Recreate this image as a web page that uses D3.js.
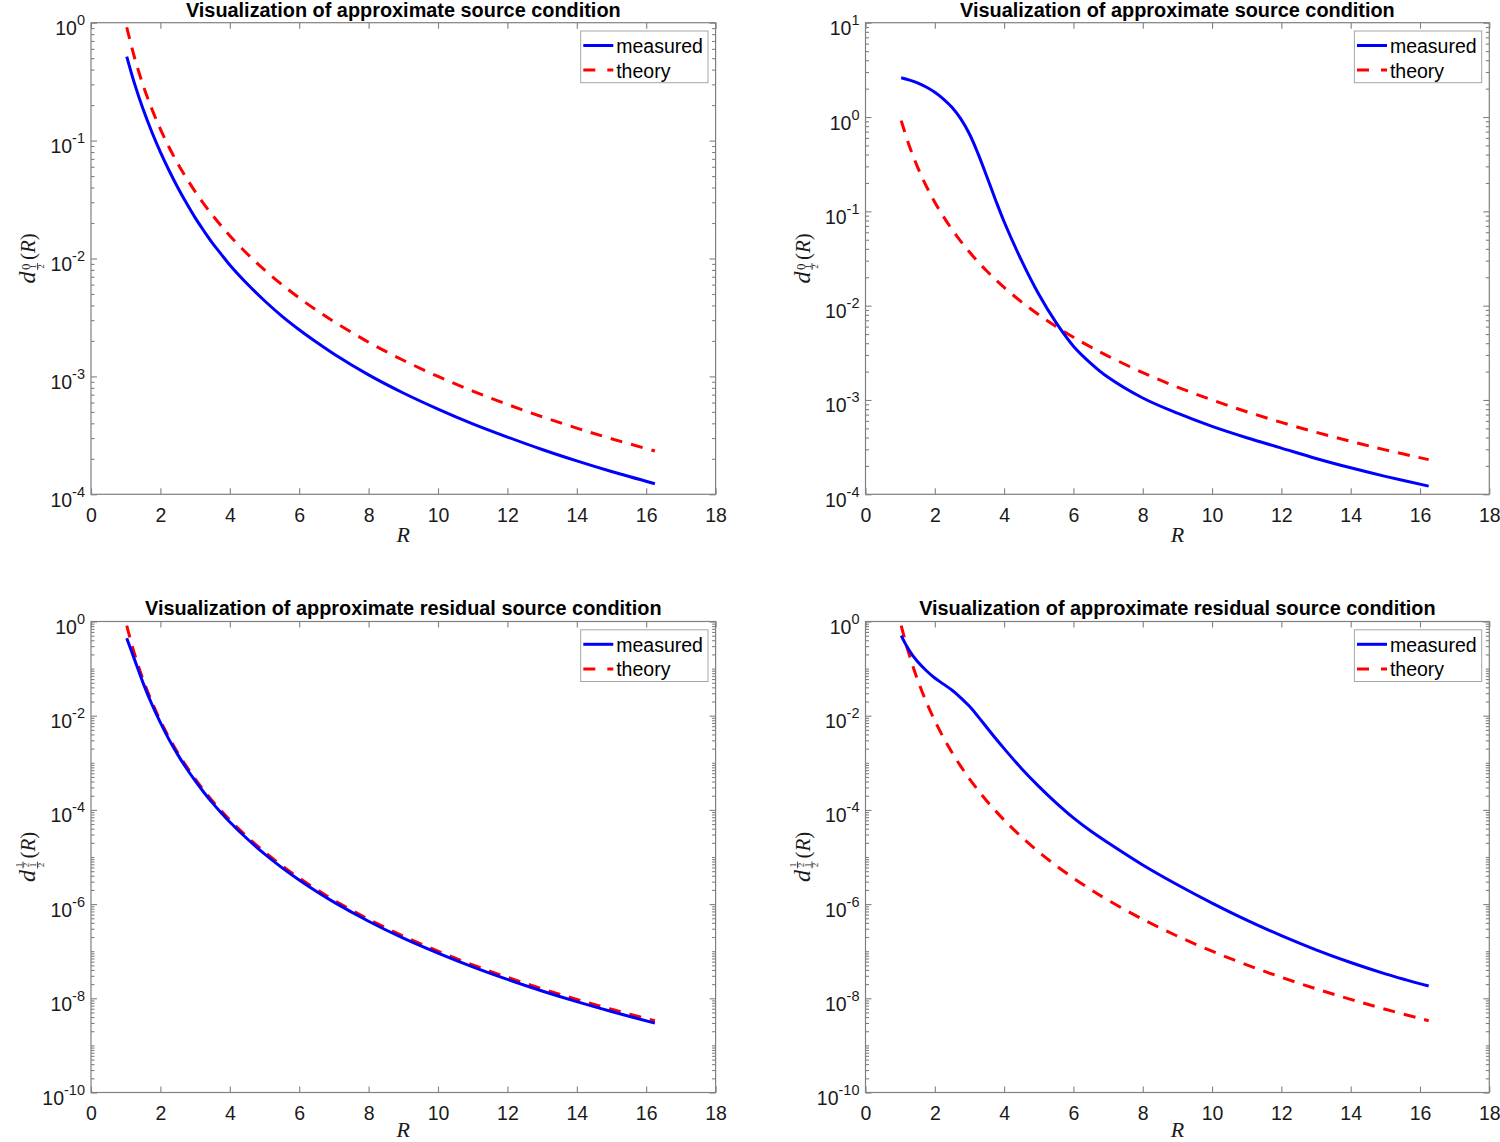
<!DOCTYPE html>
<html><head><meta charset="utf-8">
<script src="https://cdn.jsdelivr.net/npm/d3@7"></script>
<style>body{margin:0;background:#fff}svg{display:block}</style>
</head><body>
<svg id="chart" width="1500" height="1142"></svg>
<script>
// ---------- data ----------
const R = [1.03, 1.25, 1.5, 1.75, 2, 2.25, 2.5, 2.75, 3, 3.25, 3.5, 3.75, 4, 4.5, 5, 5.5, 6, 6.5, 7, 8, 9, 10, 11, 12, 13, 14, 15, 16.25];

const measuredTL = [0.515, 0.307, 0.185, 0.119, 0.080, 0.0558, 0.040, 0.0295, 0.0222, 0.0172, 0.0135, 0.0109, 0.00881, 0.0061, 0.00438, 0.00325, 0.00249, 0.00195, 0.00155, 0.00103, 7.23e-4, 5.28e-4, 3.96e-4, 3.06e-4, 2.40e-4, 1.92e-4, 1.56e-4, 1.23e-4];
const theoryTL = [0.915, 0.512, 0.296, 0.1866, 0.125, 0.0878, 0.064, 0.0481, 0.0370, 0.0291, 0.0233, 0.01896, 0.0156, 0.01097, 0.0080, 0.00601, 0.00463, 0.00364, 0.00292, 0.00195, 0.00137, 0.0010, 7.51e-4, 5.79e-4, 4.55e-4, 3.64e-4, 2.96e-4, 2.33e-4];

const measuredTR = [2.61, 2.48, 2.30, 2.08, 1.83, 1.55, 1.26, 0.955, 0.661, 0.407, 0.234, 0.133, 0.0776, 0.0302, 0.0132, 0.0066, 0.00372, 0.00245, 0.00174, 0.00105, 7.24e-4, 5.25e-4, 3.98e-4, 3.09e-4, 2.40e-4, 1.91e-4, 1.55e-4, 1.22e-4];
const theoryTR = [0.915, 0.512, 0.296, 0.1866, 0.125, 0.0878, 0.064, 0.0481, 0.0370, 0.0291, 0.0233, 0.01896, 0.0156, 0.01097, 0.0080, 0.00601, 0.00463, 0.00364, 0.00292, 0.00195, 0.00137, 0.0010, 7.51e-4, 5.79e-4, 4.55e-4, 3.64e-4, 2.96e-4, 2.33e-4];

const measuredBL = [0.44, 0.159, 0.0498, 0.0177, 0.0071, 0.0031, 0.00149, 7.65e-4, 4.16e-4, 2.37e-4, 1.41e-4, 8.7e-5, 5.55e-5, 2.44e-5, 1.165e-5, 5.95e-6, 3.24e-6, 1.85e-6, 1.1e-6, 4.33e-7, 1.89e-7, 9.1e-8, 4.65e-8, 2.52e-8, 1.43e-8, 8.5e-9, 5.25e-9, 2.97e-9];
const theoryBL = [0.813, 0.21, 0.0585, 0.0199, 0.00781, 0.00342, 0.00164, 8.41e-4, 4.57e-4, 2.61e-4, 1.55e-4, 9.6e-5, 6.1e-5, 2.68e-5, 1.28e-5, 6.57e-6, 3.57e-6, 2.04e-6, 1.21e-6, 4.77e-7, 2.09e-7, 1.0e-7, 5.13e-8, 2.79e-8, 1.59e-8, 9.5e-9, 5.85e-9, 3.34e-9];

const measuredBR = [0.501, 0.251, 0.141, 0.0912, 0.0631, 0.0468, 0.0347, 0.024, 0.0158, 0.00955, 0.00562, 0.00331, 0.0020, 7.6e-4, 3.16e-4, 1.41e-4, 6.76e-5, 3.55e-5, 2.0e-5, 6.76e-6, 2.57e-6, 1.05e-6, 4.57e-7, 2.14e-7, 1.07e-7, 5.75e-8, 3.31e-8, 1.82e-8];
const theoryBR = [0.813, 0.21, 0.0585, 0.0199, 0.00781, 0.00342, 0.00164, 8.41e-4, 4.57e-4, 2.61e-4, 1.55e-4, 9.6e-5, 6.1e-5, 2.68e-5, 1.28e-5, 6.57e-6, 3.57e-6, 2.04e-6, 1.21e-6, 4.77e-7, 2.09e-7, 1.0e-7, 5.13e-8, 2.79e-8, 1.59e-8, 9.5e-9, 5.85e-9, 3.34e-9];

const titles = [
  "Visualization of approximate source condition",
  "Visualization of approximate source condition",
  "Visualization of approximate residual source condition",
  "Visualization of approximate residual source condition"
];
const seriesNames = ["measured", "theory"];
const xTicks = [0, 2, 4, 6, 8, 10, 12, 14, 16, 18];
const yExpTL = [0, -1, -2, -3, -4];
const yExpTR = [1, 0, -1, -2, -3, -4];
const yExpBottom = [0, -2, -4, -6, -8, -10];
const xLabel = "R";

// ---------- layout ----------
const svg = d3.select("#chart");
const sansFont = "'Liberation Sans', Arial, Helvetica, sans-serif";
const serifFont = "'Liberation Serif', 'Times New Roman', serif";
const axisColor = "#808080";
const textColor = "#1a1a1a";

const panels = [
  {x: 91, y: 22.7, w: 624.6, h: 471.6, title: titles[0], m: measuredTL, t: theoryTL, exps: yExpTL, sup: "0", titleW: 435},
  {x: 865.5, y: 22.7, w: 623.8, h: 471.6, title: titles[1], m: measuredTR, t: theoryTR, exps: yExpTR, sup: "0", titleW: 435},
  {x: 91, y: 621.5, w: 624.6, h: 471, title: titles[2], m: measuredBL, t: theoryBL, exps: yExpBottom, sup: "frac", titleW: 517},
  {x: 865.5, y: 621.5, w: 623.8, h: 471, title: titles[3], m: measuredBR, t: theoryBR, exps: yExpBottom, sup: "frac", titleW: 517}
];

function drawPanel(p) {
  const W = p.w;
  const g = svg.append("g").attr("transform", `translate(${p.x},${p.y})`);
  const x = d3.scaleLinear().domain([0, 18]).range([0, W]);
  const yMax = Math.pow(10, d3.max(p.exps)), yMin = Math.pow(10, d3.min(p.exps));
  const y = d3.scaleLog().domain([yMin, yMax]).range([p.h, 0]);

  const majorVals = p.exps.map(e => Math.pow(10, e));
  const minors = [];
  for (let k = d3.min(p.exps); k < d3.max(p.exps); k++) {
    for (let m = 1; m <= 9; m++) {
      if (m === 1 && p.exps.includes(k)) continue;
      minors.push(m * Math.pow(10, k));
    }
  }

  const styleAxis = sel => {
    sel.select(".domain").remove();
    sel.selectAll("line").attr("stroke", axisColor).attr("stroke-width", 1.1);
  };

  g.append("g").attr("transform", `translate(0,${p.h})`)
    .call(d3.axisBottom(x).tickValues(xTicks).tickSizeInner(-6).tickSizeOuter(0).tickPadding(13.5).tickFormat(d3.format("d")))
    .call(styleAxis)
    .call(s => s.selectAll("text").attr("font-family", sansFont).attr("font-size", 19.5).attr("fill", textColor));
  g.append("g")
    .call(d3.axisTop(x).tickValues(xTicks).tickSizeInner(-6).tickSizeOuter(0).tickFormat(""))
    .call(styleAxis);
  g.append("g").call(d3.axisLeft(y).tickValues(majorVals).tickSizeInner(-6).tickSizeOuter(0).tickFormat("")).call(styleAxis);
  g.append("g").call(d3.axisLeft(y).tickValues(minors).tickSizeInner(-3.5).tickSizeOuter(0).tickFormat("")).call(styleAxis);
  g.append("g").attr("transform", `translate(${W},0)`).call(d3.axisRight(y).tickValues(majorVals).tickSizeInner(-6).tickSizeOuter(0).tickFormat("")).call(styleAxis);
  g.append("g").attr("transform", `translate(${W},0)`).call(d3.axisRight(y).tickValues(minors).tickSizeInner(-3.5).tickSizeOuter(0).tickFormat("")).call(styleAxis);

  g.append("rect").attr("x", 0).attr("y", 0).attr("width", W).attr("height", p.h)
    .attr("fill", "none").attr("stroke", axisColor).attr("stroke-width", 1.2);

  p.exps.forEach(e => {
    const ty = y(Math.pow(10, e));
    const t = g.append("text").attr("x", -6).attr("y", ty + 12.5)
      .attr("text-anchor", "end").attr("font-family", sansFont).attr("fill", textColor);
    t.append("tspan").attr("font-size", 19.5).text("10");
    t.append("tspan").attr("font-size", 14.5).attr("dy", -10).text(String(e));
  });

  const line = d3.line().x((d, i) => x(R[i])).y(d => y(d)).curve(d3.curveCatmullRom.alpha(0.5));
  g.append("path").datum(p.t).attr("d", line).attr("fill", "none")
    .attr("stroke", "#ff0000").attr("stroke-width", 3).attr("stroke-dasharray", "12,9");
  g.append("path").datum(p.m).attr("d", line).attr("fill", "none")
    .attr("stroke", "#0000ff").attr("stroke-width", 3);

  const tt = svg.append("text").attr("x", p.x + W / 2).attr("y", p.y - 6.2)
    .attr("text-anchor", "middle").attr("font-family", sansFont).attr("font-weight", "bold")
    .attr("font-size", 18.5).attr("fill", "#000").text(p.title);
  const len = tt.node().getComputedTextLength();
  if (len > 0) tt.attr("font-size", 18.5 * p.titleW / len);

  g.append("text").attr("x", W / 2).attr("y", Math.min(p.h + 48, 1137 - p.y)).attr("text-anchor", "middle")
    .attr("font-family", serifFont).attr("font-style", "italic").attr("font-size", 22)
    .attr("fill", textColor).text(xLabel);

  // y label  d^{sup}_{1/2}(R)
  const yl = g.append("g").attr("transform", `translate(-64,${p.h / 2}) rotate(-90)`)
    .attr("font-family", serifFont).attr("fill", textColor);
  yl.append("text").attr("x", -25).attr("y", 8).attr("font-style", "italic").attr("font-size", 24).text("d");
  const frac = (cx, by, size) => {
    yl.append("text").attr("x", cx).attr("y", by).attr("text-anchor", "middle").attr("font-size", size).text("1");
    yl.append("line").attr("x1", cx - 3.4).attr("x2", cx + 3.4).attr("y1", by + 1.5).attr("y2", by + 1.5)
      .attr("stroke", textColor).attr("stroke-width", 0.8);
    yl.append("text").attr("x", cx).attr("y", by + 7.6).attr("text-anchor", "middle").attr("font-size", size).text("2");
  };
  if (p.sup === "0") {
    yl.append("text").attr("x", -11.5).attr("y", 3).attr("font-size", 13).text("0");
  } else {
    frac(-8, -5.5, 9);
  }
  frac(-8, 9, 9);
  const pr = yl.append("text").attr("x", -1.5).attr("y", 8).attr("font-size", 21);
  pr.append("tspan").text("(");
  pr.append("tspan").attr("font-style", "italic").text("R");
  pr.append("tspan").text(")");

  const lw = 127.3, lh = 51.7;
  const lg = g.append("g").attr("transform", `translate(${W - 7.6 - lw},8.3)`);
  lg.append("rect").attr("width", lw).attr("height", lh).attr("fill", "#fff")
    .attr("stroke", "#a6a6a6").attr("stroke-width", 1);
  seriesNames.forEach((name, i) => {
    const ly = 14.5 + i * 24.6;
    lg.append("line").attr("x1", 2.6).attr("x2", 32.6).attr("y1", ly).attr("y2", ly)
      .attr("stroke", i === 0 ? "#0000ff" : "#ff0000").attr("stroke-width", 3)
      .attr("stroke-dasharray", i === 0 ? null : "12,12");
    lg.append("text").attr("x", 35.5).attr("y", ly + 7.5).attr("font-family", sansFont)
      .attr("font-size", 19.5).attr("fill", "#000").text(name);
  });
}

panels.forEach(drawPanel);
</script>
</body></html>
